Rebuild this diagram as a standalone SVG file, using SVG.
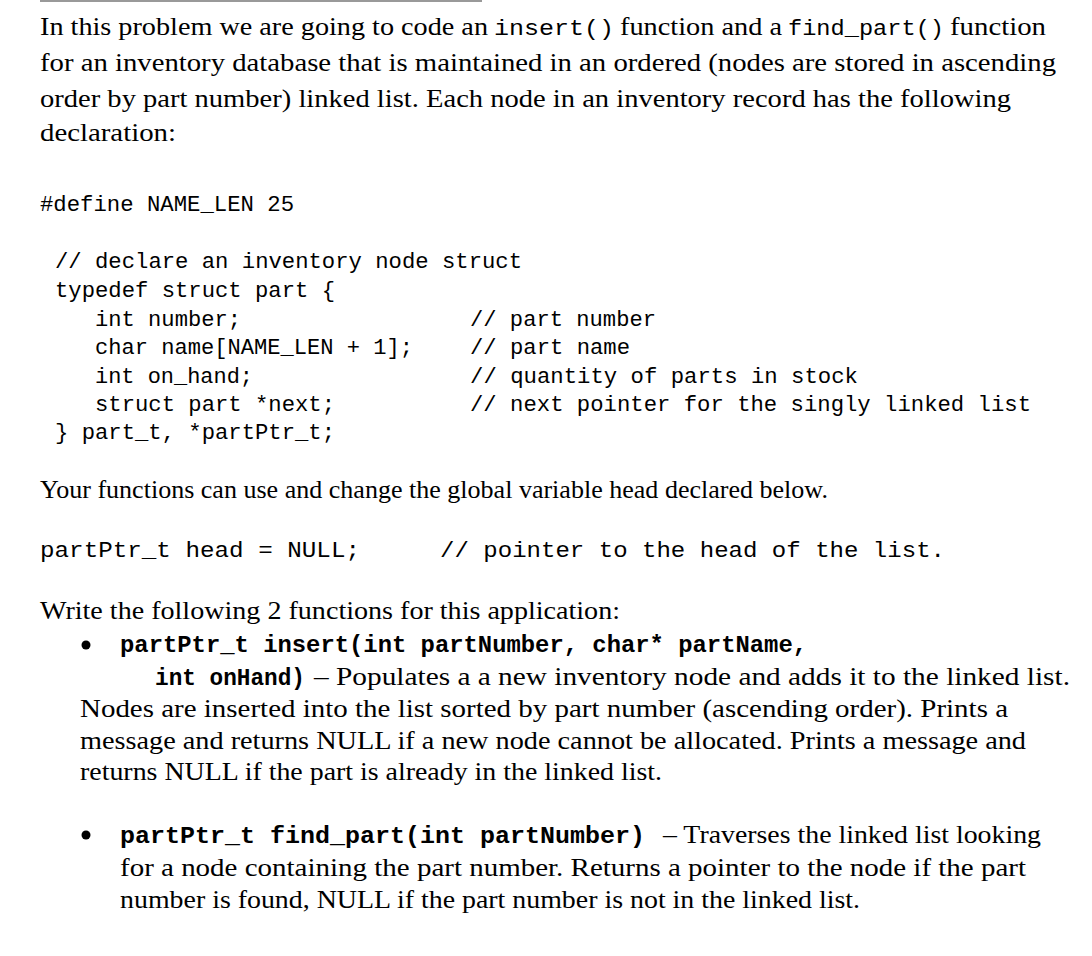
<svg xmlns="http://www.w3.org/2000/svg" width="1092" height="956" viewBox="0 0 1092 956">
<style>
.s{font-family:"Liberation Serif",serif;font-size:26px;fill:#000}
.m{font-family:"Liberation Mono","DejaVu Sans Mono",monospace;font-size:22px;fill:#000}
.b{font-family:"Liberation Mono","DejaVu Sans Mono",monospace;font-size:24px;font-weight:bold;fill:#000}
</style>
<rect width="1092" height="956" fill="#fff"/>
<line x1="40" y1="1" x2="482" y2="1" stroke="#999" stroke-width="2"/>
<text class="s" x="40" y="35" textLength="448" lengthAdjust="spacingAndGlyphs">In this problem we are going to code an</text>
<text class="m" x="494" y="35" font-size="24" textLength="120" lengthAdjust="spacingAndGlyphs">insert()</text>
<text class="s" x="620" y="35" textLength="162" lengthAdjust="spacingAndGlyphs">function and a</text>
<text class="m" x="788" y="35" font-size="24" textLength="156" lengthAdjust="spacingAndGlyphs">find_part()</text>
<text class="s" x="950" y="35" textLength="96" lengthAdjust="spacingAndGlyphs">function</text>
<text class="s" x="40" y="71" textLength="1016" lengthAdjust="spacingAndGlyphs">for an inventory database that is maintained in an ordered (nodes are stored in ascending</text>
<text class="s" x="40" y="107" textLength="971" lengthAdjust="spacingAndGlyphs">order by part number) linked list.  Each node in an inventory record has the following</text>
<text class="s" x="40" y="141" textLength="136" lengthAdjust="spacingAndGlyphs">declaration:</text>
<text class="m" x="40" y="211" textLength="254" lengthAdjust="spacingAndGlyphs">#define NAME_LEN 25</text>
<text class="m" x="55" y="268" textLength="467" lengthAdjust="spacingAndGlyphs">// declare an inventory node struct</text>
<text class="m" x="55" y="297" textLength="280" lengthAdjust="spacingAndGlyphs">typedef struct part {</text>
<text class="m" x="95" y="326" textLength="146" lengthAdjust="spacingAndGlyphs">int number;</text>
<text class="m" x="95" y="354" textLength="318" lengthAdjust="spacingAndGlyphs">char name[NAME_LEN + 1];</text>
<text class="m" x="95" y="383" textLength="158" lengthAdjust="spacingAndGlyphs">int on_hand;</text>
<text class="m" x="95" y="411" textLength="240" lengthAdjust="spacingAndGlyphs">struct part *next;</text>
<text class="m" x="55" y="439" textLength="280" lengthAdjust="spacingAndGlyphs">} part_t, *partPtr_t;</text>
<text class="m" x="470" y="326" textLength="186" lengthAdjust="spacingAndGlyphs">// part number</text>
<text class="m" x="470" y="354" textLength="160" lengthAdjust="spacingAndGlyphs">// part name</text>
<text class="m" x="470" y="383" textLength="388" lengthAdjust="spacingAndGlyphs">// quantity of parts in stock</text>
<text class="m" x="470" y="411" textLength="561" lengthAdjust="spacingAndGlyphs">// next pointer for the singly linked list</text>
<text class="s" x="40" y="498" font-size="23" textLength="788" lengthAdjust="spacingAndGlyphs">Your functions can use and change the global variable head declared below.</text>
<text class="m" x="40" y="557" font-size="23" textLength="320" lengthAdjust="spacingAndGlyphs">partPtr_t head = NULL;</text>
<text class="m" x="440" y="557" font-size="23" textLength="505" lengthAdjust="spacingAndGlyphs">// pointer to the head of the list.</text>
<text class="s" x="40" y="619" textLength="580" lengthAdjust="spacingAndGlyphs">Write the following 2 functions for this application:</text>
<circle cx="86" cy="645" r="4.5" fill="#000"/>
<text class="b" x="120" y="652" textLength="687" lengthAdjust="spacingAndGlyphs">partPtr_t insert(int partNumber, char* partName,</text>
<text class="b" x="155" y="685" textLength="150" lengthAdjust="spacingAndGlyphs">int onHand)</text>
<text class="s" x="314" y="685" textLength="756" lengthAdjust="spacingAndGlyphs">– Populates a  a new inventory node and adds it to the  linked list.</text>
<text class="s" x="80" y="717" textLength="928" lengthAdjust="spacingAndGlyphs">Nodes are inserted into the list sorted by part number (ascending order).  Prints a</text>
<text class="s" x="80" y="749" textLength="946" lengthAdjust="spacingAndGlyphs">message and returns NULL if a new node cannot be allocated.  Prints a message and</text>
<text class="s" x="80" y="780" textLength="582" lengthAdjust="spacingAndGlyphs">returns NULL if the part is already in the linked list.</text>
<circle cx="86" cy="835" r="4.5" fill="#000"/>
<text class="b" x="120" y="843" textLength="525" lengthAdjust="spacingAndGlyphs">partPtr_t find_part(int partNumber)</text>
<text class="s" x="663" y="843" textLength="378" lengthAdjust="spacingAndGlyphs">–  Traverses the linked list looking</text>
<text class="s" x="120" y="876" textLength="906" lengthAdjust="spacingAndGlyphs">for a node containing the part number.  Returns a pointer to the node if the part</text>
<text class="s" x="120" y="908" textLength="740" lengthAdjust="spacingAndGlyphs">number is found, NULL if the part number is not in the linked list.</text>
</svg>
